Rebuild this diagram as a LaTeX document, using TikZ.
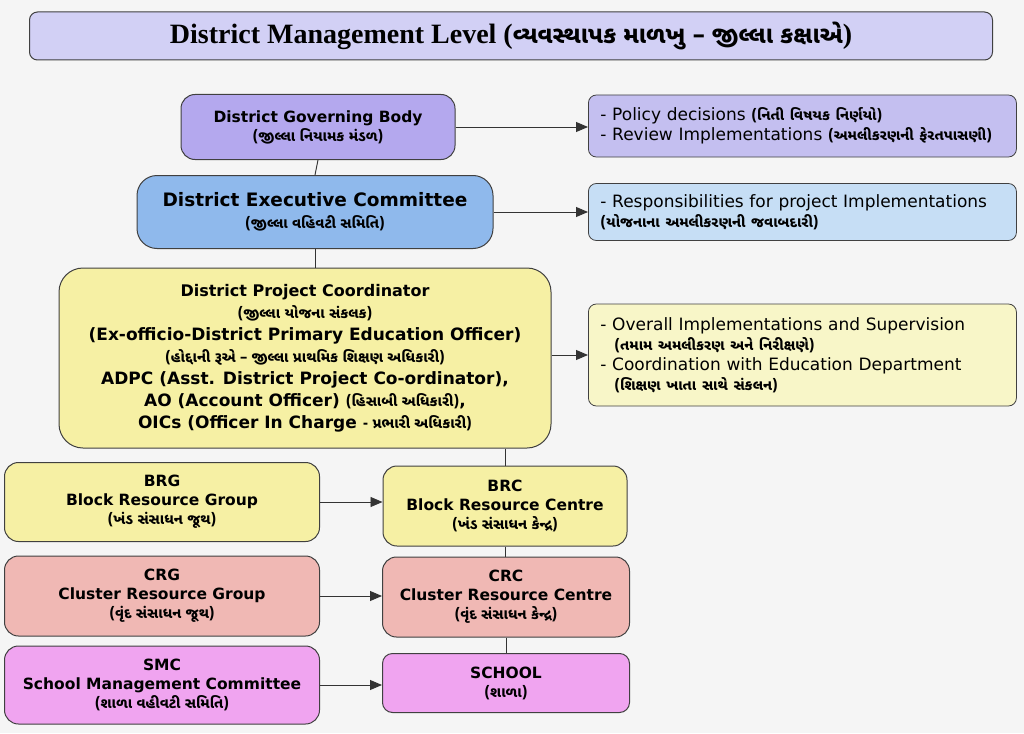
\documentclass[tikz,border=0pt]{standalone}
\usepackage{fontspec}
\setmainfont{DejaVu Sans}
\newfontfamily\guj[Script=Gujarati]{Noto Sans Gujarati UI}
\newfontfamily\titlefont{Liberation Serif}
\usetikzlibrary{arrows.meta}
\begin{document}
\begin{tikzpicture}[x=1pt,y=-1pt,
  box/.style={draw=black!75,line width=1pt,rounded corners=14pt,align=center,inner sep=2pt,font=\fontsize{15.5}{19}\selectfont\bfseries},
  side/.style={draw=black!75,line width=0.8pt,rounded corners=8pt,align=left,inner xsep=12pt,inner ysep=2pt,anchor=west,font=\fontsize{17}{20}\selectfont},
  con/.style={draw=black!80,line width=0.9pt},
  arr/.style={con,-{Triangle[length=12pt,width=10pt]}}]
\fill[black!4] (0,0) rectangle (1024,733);
\useasboundingbox (0,0) rectangle (1024,733);
\newcommand\gj[1]{{\guj\fontsize{14.5}{17}\selectfont\bfseries #1}}
\node[box,fill={rgb,255:red,210;green,208;blue,245},rounded corners=8pt,minimum width=963pt,minimum height=48pt] (title) at (511,36)
 {\titlefont\fontsize{28}{30}\selectfont\bfseries District Management Level ({\guj\fontsize{24}{28}\selectfont વ્યવસ્થાપક માળખુ – જીલ્લા કક્ષાએ})};
\node[box,fill={rgb,255:red,180;green,168;blue,238},minimum width=274pt,minimum height=65pt] (dgb) at (318,127)
 {District Governing Body\\ \gj{(જીલ્લા નિયામક મંડળ)}};
\node[box,fill={rgb,255:red,143;green,185;blue,236},font=\fontsize{18.5}{22}\selectfont\bfseries,minimum width=356pt,minimum height=73pt,rounded corners=20pt] (dec) at (315,212)
 {District Executive Committee\\ \gj{(જીલ્લા વહિવટી સમિતિ)}};
\node[box,fill={rgb,255:red,246;green,240;blue,164},font=\fontsize{17}{22}\selectfont\bfseries,minimum width=492pt,minimum height=180pt,rounded corners=24pt,inner ysep=0pt] (dpc) at (305,358)
 {{\fontsize{16}{18}\selectfont District Project Coordinator}\\ \gj{(જીલ્લા યોજના સંકલક)}\\
  (Ex-officio-District Primary Education Officer)\\ \gj{(હોદ્દાની રૂએ – જીલ્લા પ્રાથમિક શિક્ષણ અધિકારી)}\\
  ADPC (Asst. District Project Co-ordinator),\\ AO (Account Officer) \gj{(હિસાબી અધિકારી)},\\
  OICs (Officer In Charge \gj{- પ્રભારી અધિકારી)}};
\node[side,fill={rgb,255:red,196;green,191;blue,240},minimum width=428pt,minimum height=62pt,text width=404pt] (pol) at (588,126)
 {- Policy decisions \gj{(નિતી વિષયક નિર્ણયો)}\\- Review Implementations \gj{(અમલીકરણની ફેરતપાસણી)}};
\node[side,fill={rgb,255:red,198;green,222;blue,245},minimum width=428pt,minimum height=57pt,text width=404pt] (resp) at (588,212)
 {- Responsibilities for project Implementations\\ \gj{(યોજનાના અમલીકરણની જવાબદારી)}};
\node[side,fill={rgb,255:red,248;green,246;blue,200},minimum width=428pt,minimum height=102pt,text width=404pt] (ovr) at (588,355)
 {- Overall Implementations and Supervision\\ \hspace*{14pt}\gj{(તમામ અમલીકરણ અને નિરીક્ષણે)}\\- Coordination with Education Department\\ \hspace*{14pt}\gj{(શિક્ષણ ખાતા સાથે સંકલન)}};
\tikzset{yel/.style={box,fill={rgb,255:red,246;green,240;blue,164}},
  pnk/.style={box,fill={rgb,255:red,240;green,184;blue,180}},
  mag/.style={box,fill={rgb,255:red,240;green,164;blue,240}}}
\node[yel,minimum width=315pt,minimum height=79pt] (brg) at (162,502) {BRG\\Block Resource Group\\ \gj{(ખંડ સંસાધન જૂથ)}};
\node[yel,minimum width=244pt,minimum height=80pt] (brc) at (505,506) {BRC\\Block Resource Centre\\ \gj{(ખંડ સંસાધન કેન્દ્ર)}};
\node[pnk,minimum width=315pt,minimum height=80pt] (crg) at (162,596) {CRG\\Cluster Resource Group\\ \gj{(વૃંદ સંસાધન જૂથ)}};
\node[pnk,minimum width=247pt,minimum height=80pt] (crc) at (506,597) {CRC\\Cluster Resource Centre\\ \gj{(વૃંદ સંસાધન કેન્દ્ર)}};
\node[mag,minimum width=315pt,minimum height=78pt] (smc) at (162,685) {SMC\\School Management Committee\\ \gj{(શાળા વહીવટી સમિતિ)}};
\node[mag,minimum width=247pt,minimum height=59pt,rounded corners=10pt] (sch) at (506,683) {SCHOOL\\ \gj{(શાળા)}};
\draw[con] (dgb.south) -- (dec.north);
\draw[con] (dec.south) -- (dpc.north -| dec.south);
\draw[con] (dpc.south -| brc.north) -- (brc.north);
\draw[con] (brc.south) -- (brc.south |- crc.north);
\draw[con] (crc.south) -- (crc.south |- sch.north);
\draw[arr] (dgb.east) -- (dgb.east -| pol.west);
\draw[arr] (dec.east) -- (dec.east -| resp.west);
\draw[arr] (dpc.east |- ovr.west) -- (ovr.west);
\draw[arr] (brg.east) -- (brg.east -| brc.west);
\draw[arr] (crg.east) -- (crg.east -| crc.west);
\draw[arr] (smc.east) -- (smc.east -| sch.west);
\end{tikzpicture}
\end{document}
